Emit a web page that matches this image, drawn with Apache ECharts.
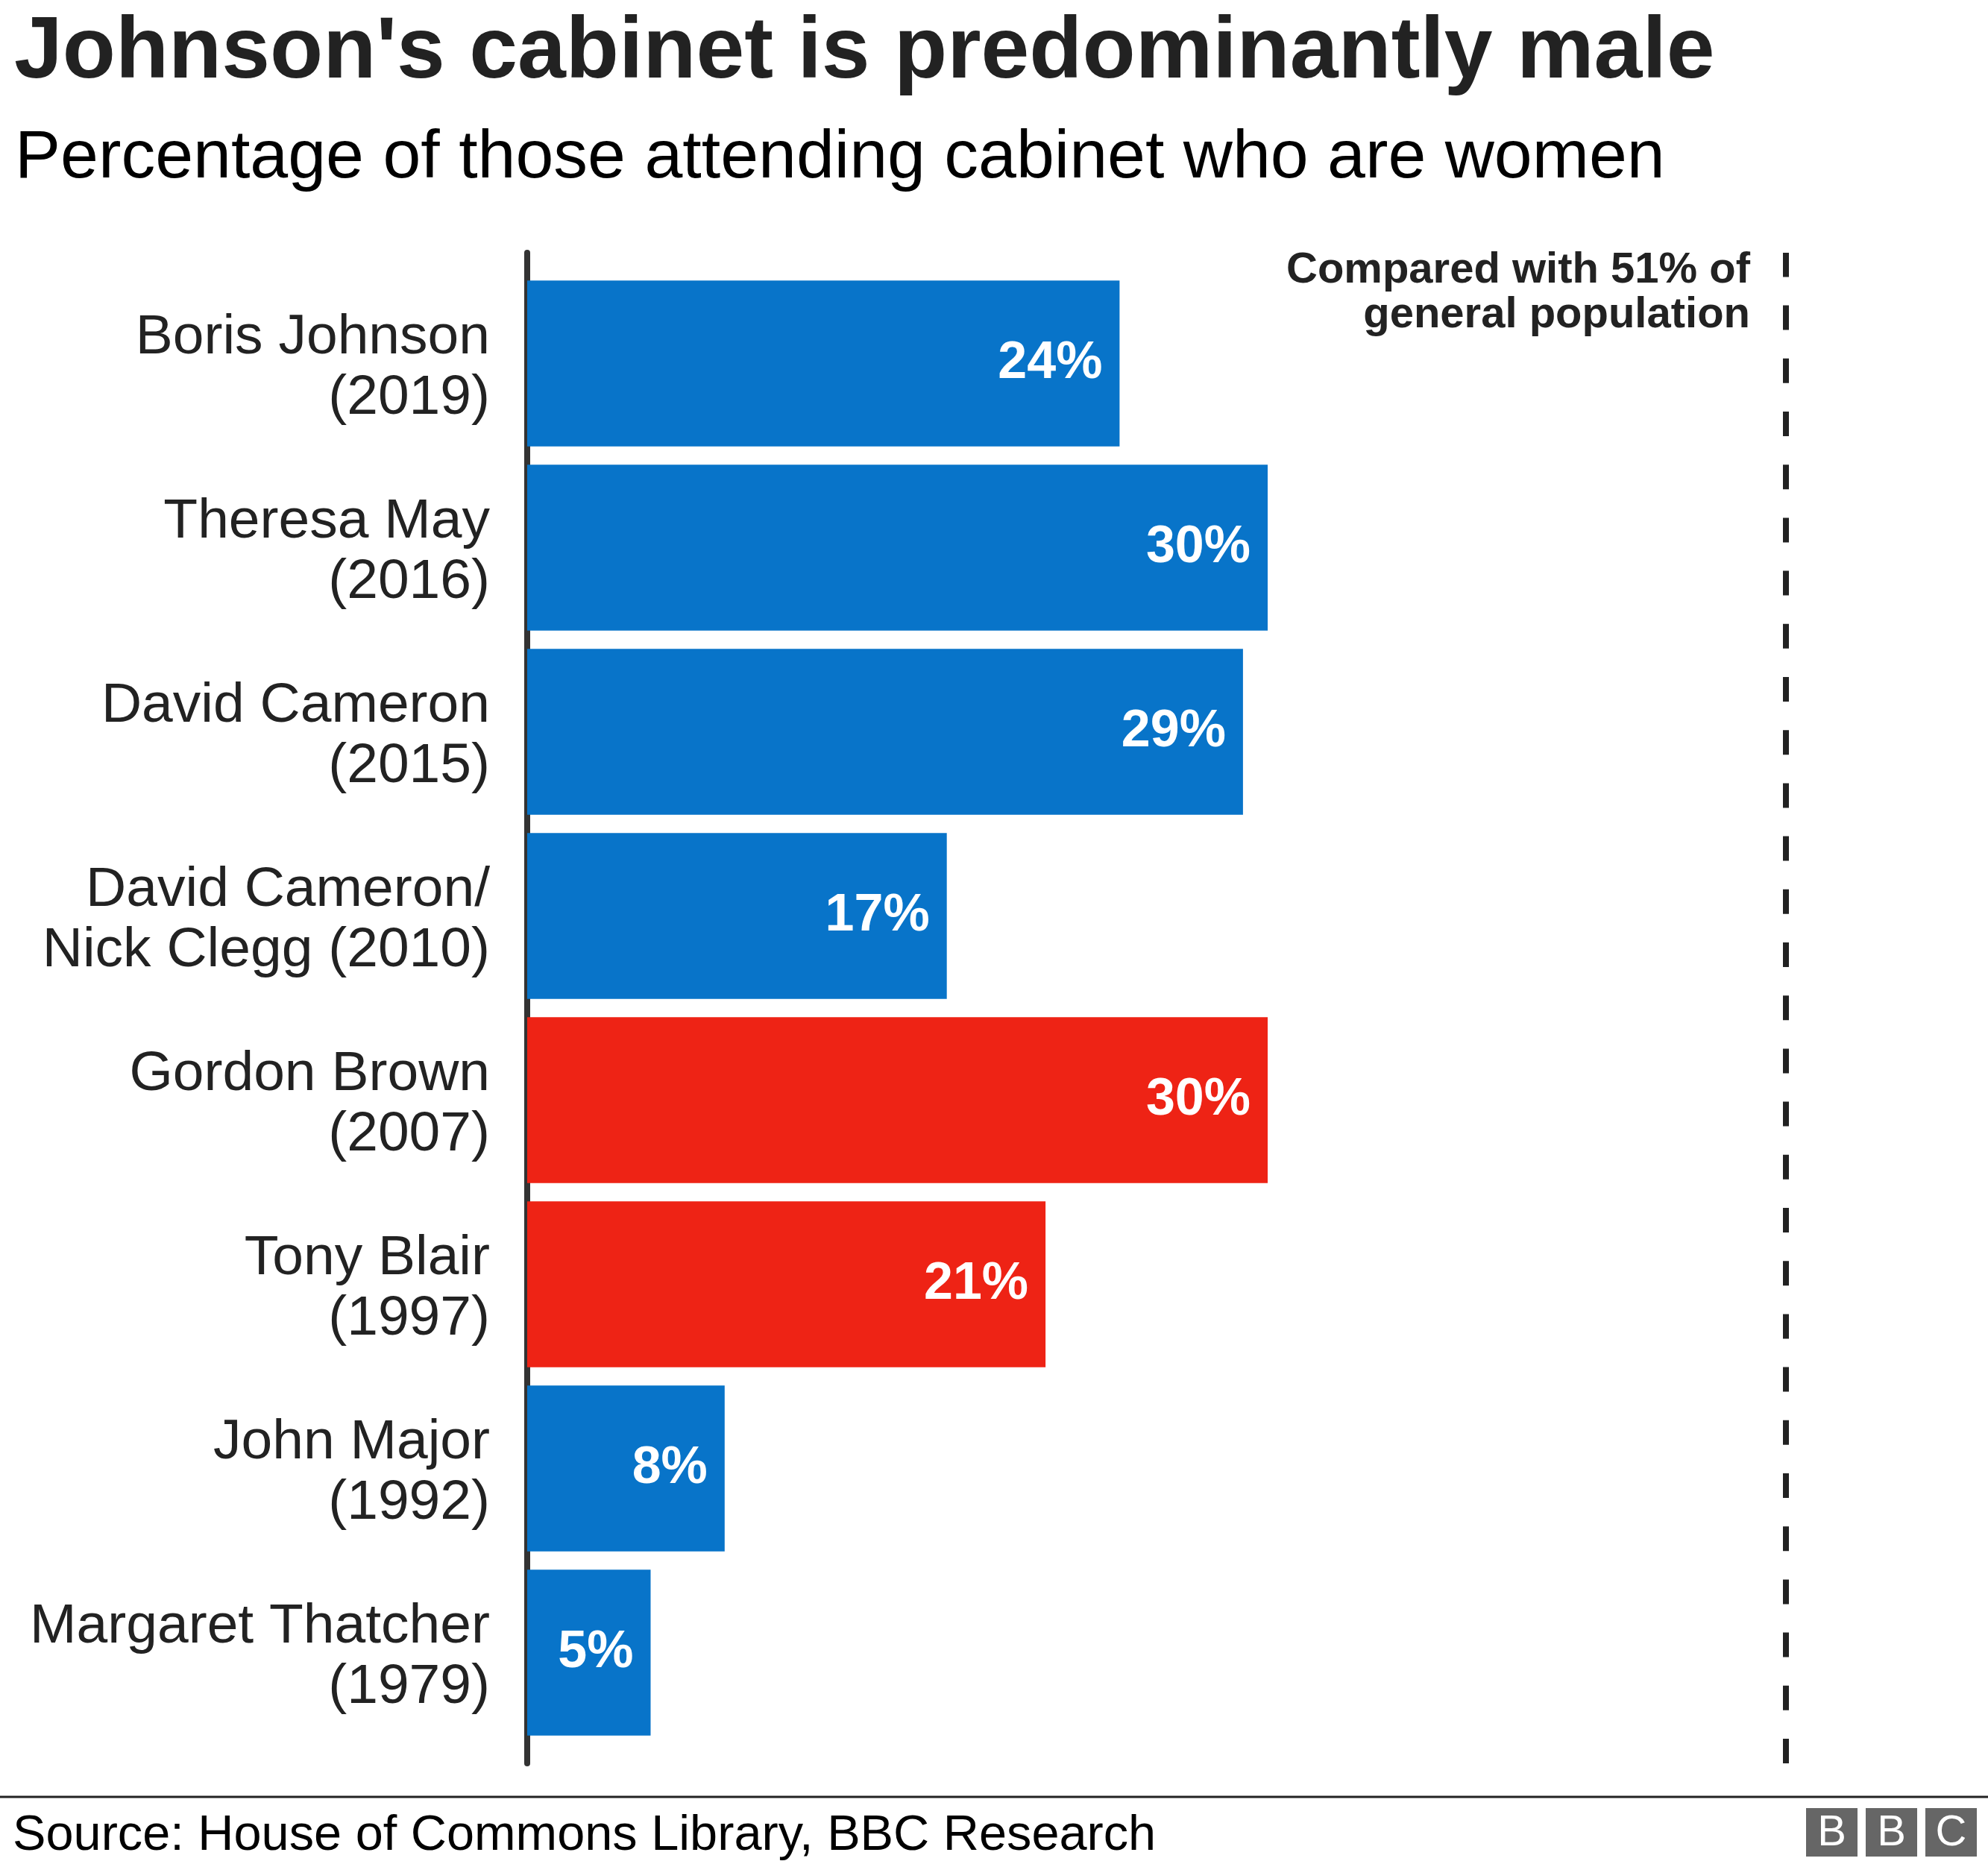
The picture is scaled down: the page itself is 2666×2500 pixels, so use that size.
<!DOCTYPE html>
<html>
<head>
<meta charset="utf-8">
<script src="https://cdn.jsdelivr.net/npm/echarts@6/dist/echarts.min.js"></script>
<style>
  html, body { margin: 0; padding: 0; background: #fff; }
  #chart { width: 2666px; height: 2500px; }
</style>
</head>
<body>
<div id="chart"></div>
<script>
// ---- data ----
const categories = [
  'Boris Johnson\n(2019)',
  'Theresa May\n(2016)',
  'David Cameron\n(2015)',
  'David Cameron/\nNick Clegg (2010)',
  'Gordon Brown\n(2007)',
  'Tony Blair\n(1997)',
  'John Major\n(1992)',
  'Margaret Thatcher\n(1979)'
];
const values = [24, 30, 29, 17, 30, 21, 8, 5];
const parties = ['Conservative', 'Conservative', 'Conservative', 'Conservative', 'Labour', 'Labour', 'Conservative', 'Conservative'];
const partyColors = { Conservative: '#0874c9', Labour: '#ee2315' };
const populationShare = 51;
const titleText = "Johnson's cabinet is predominantly male";
const subtitleText = 'Percentage of those attending cabinet who are women';
const annotationText = 'Compared with 51% of\ngeneral population';
const sourceText = 'Source: House of Commons Library, BBC Research';

const FONT = "'Liberation Sans', Arial, Helvetica, sans-serif";
const X_MAX = 55;
const PX_PER_UNIT = 33.1;
const GRID_RIGHT = 2666 - 707 - X_MAX * PX_PER_UNIT;

const chart = echarts.init(document.getElementById('chart'), null, { renderer: 'canvas' });

const labelStyle = { fontFamily: FONT, fontSize: 75, lineHeight: 81, color: '#222222', align: 'right' };

const option = {
  backgroundColor: '#ffffff',
  animation: false,
  title: [
    { text: titleText, left: 14, top: 9,
      textStyle: { fontFamily: FONT, fontWeight: 'bold', fontSize: 116.5, lineHeight: 116.5, color: '#222222' } },
    { text: subtitleText, left: 15, top: 162,
      textStyle: { fontFamily: FONT, fontWeight: 'normal', fontSize: 91.5, lineHeight: 91.5, color: '#000000' } },
    { text: sourceText, left: 12, top: 2424,
      textStyle: { fontFamily: FONT, fontWeight: 'normal', fontSize: 66.7, lineHeight: 66.7, color: '#000000' } }
  ],
  grid: [
    { left: 707, right: GRID_RIGHT, top: 364, bottom: 160, containLabel: false },
    { left: 707, right: GRID_RIGHT, top: 339, bottom: 135, containLabel: false }
  ],
  xAxis: [
    { type: 'value', gridIndex: 0, min: 0, max: X_MAX, show: false },
    { type: 'value', gridIndex: 1, min: 0, max: X_MAX, show: false }
  ],
  yAxis: [
    {
      type: 'category', gridIndex: 0, data: categories, inverse: true,
      axisLine: { show: false }, axisTick: { show: false }, splitLine: { show: false },
      axisLabel: Object.assign({}, labelStyle, {
        margin: 50,
        formatter: function (v) {
          const parts = v.split('\n');
          return '{a|' + parts[0] + '}\n{b|' + parts[1] + '}';
        },
        rich: {
          a: Object.assign({}, labelStyle, { padding: [12, 0, 0, 0] }),
          b: Object.assign({}, labelStyle, { padding: [12, 0, 0, 0] })
        }
      })
    },
    {
      type: 'value', gridIndex: 1, min: 0, max: 1, offset: 6,
      axisLine: { show: true, lineStyle: { color: '#333333', width: 8 } },
      axisTick: { show: false }, axisLabel: { show: false }, splitLine: { show: false }
    }
  ],
  series: [
    {
      type: 'bar',
      xAxisIndex: 0, yAxisIndex: 0,
      barCategoryGap: '10%',
      data: values.map((v, i) => ({ value: v, itemStyle: { color: partyColors[parties[i]] } })),
      label: {
        show: true, position: 'insideRight', distance: 23,
        formatter: '{c}%',
        fontFamily: FONT, fontWeight: 'bold', fontSize: 70, color: '#ffffff'
      },
      z: 3
    },
    {
      type: 'line',
      xAxisIndex: 1, yAxisIndex: 1,
      data: [],
      markLine: {
        silent: true, symbol: 'none',
        label: { show: false },
        lineStyle: { color: '#222222', width: 8, type: [33, 38.2] },
        data: [{ xAxis: populationShare }]
      },
      z: 4
    }
  ],
  graphic: [
    {
      type: 'text', x: 2347, y: 333,
      style: {
        text: annotationText, fontFamily: FONT, fontWeight: 'bold', fontSize: 58, lineHeight: 60,
        fill: '#222222', align: 'right', verticalAlign: 'top'
      }
    },
    {
      type: 'line', shape: { x1: 0, y1: 2410, x2: 2666, y2: 2410 },
      style: { stroke: '#222222', lineWidth: 3 }
    },
    {
      type: 'group', x: 2422, y: 2425,
      children: [
        { type: 'rect', shape: { x: 0, y: 0, width: 69, height: 65 }, style: { fill: '#666666' } },
        { type: 'rect', shape: { x: 80, y: 0, width: 69, height: 65 }, style: { fill: '#666666' } },
        { type: 'rect', shape: { x: 160, y: 0, width: 69, height: 65 }, style: { fill: '#666666' } },
        { type: 'text', x: 34.5, y: 34, style: { text: 'B', fontFamily: FONT, fontWeight: 'normal', fontSize: 58, fill: '#fff', align: 'center', verticalAlign: 'middle' } },
        { type: 'text', x: 114.5, y: 34, style: { text: 'B', fontFamily: FONT, fontWeight: 'normal', fontSize: 58, fill: '#fff', align: 'center', verticalAlign: 'middle' } },
        { type: 'text', x: 194.5, y: 34, style: { text: 'C', fontFamily: FONT, fontWeight: 'normal', fontSize: 58, fill: '#fff', align: 'center', verticalAlign: 'middle' } }
      ]
    }
  ]
};

chart.setOption(option);
</script>
</body>
</html>
